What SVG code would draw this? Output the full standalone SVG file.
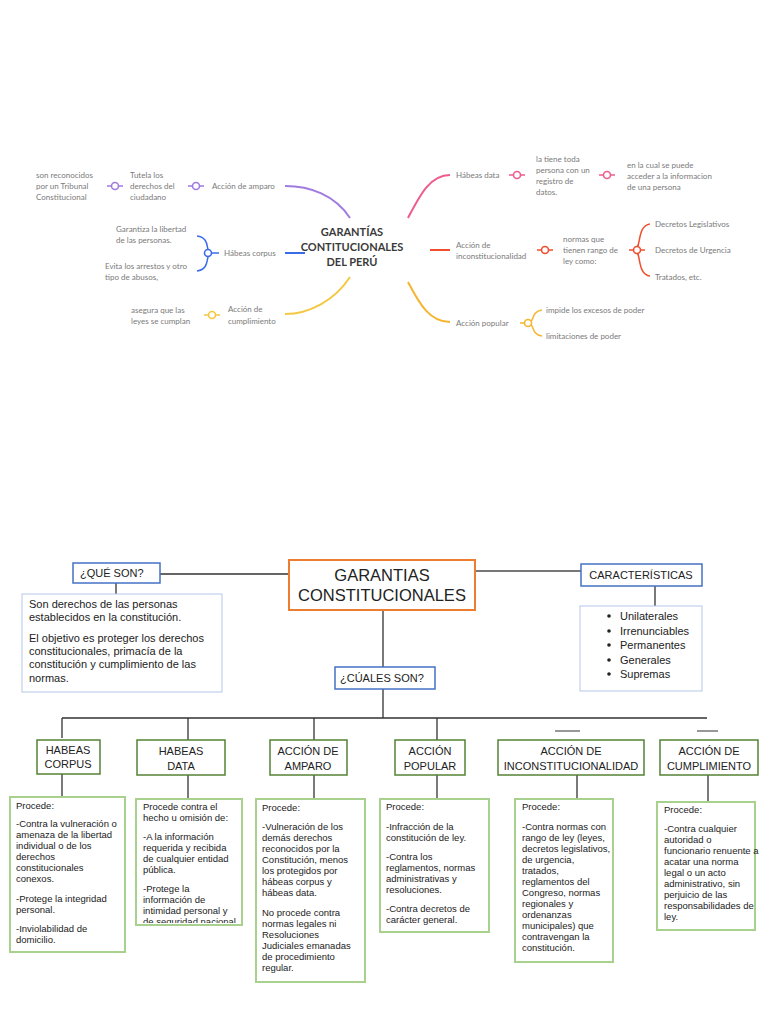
<svg xmlns="http://www.w3.org/2000/svg" width="768" height="1024" viewBox="0 0 768 1024">
<style>
.m{font-family:"Lato","Liberation Sans",sans-serif;font-size:8px;fill:#7a7a7a}
.c{font-family:"Lato","Liberation Sans",sans-serif;font-size:11px;font-weight:bold;fill:#3a3a3a}
.w{fill:#fff;stroke-width:1.6}
.b{font-family:"Liberation Sans",sans-serif;fill:#222}
.t{font-size:9.5px}
.h{font-size:11px;text-anchor:middle}
.g{fill:#fff;stroke:#a9d18e;stroke-width:2}
.hb{fill:#fff;stroke:#548235;stroke-width:1.5}
.ln{stroke:#333;stroke-width:1.3;fill:none}
.cv{fill:none;stroke-width:2}
</style>
<defs><clipPath id="cp2"><rect x="136" y="799" width="106" height="124"/></clipPath></defs>
<rect width="768" height="1024" fill="#fff"/>

<g id="mindmap-links">
<path class="cv" stroke="#a07be0" d="M350 218 C335 195 310 186 285 186"/>
<path class="cv" stroke="#3b6ce8" d="M285 253 H305"/>
<path class="cv" stroke="#f5c842" d="M350 277 C335 300 310 314 285 314"/>
<path class="cv" stroke="#ef5b8f" d="M408 218 C420 195 430 175 450 175"/>
<path class="cv" stroke="#ef4f2f" d="M430 250 H450"/>
<path class="cv" stroke="#f5b531" d="M408 282 C420 305 430 322 450 322"/>
</g>
<g id="mm-center"><text class="c" text-anchor="middle"><tspan x="352" y="236">GARANTÍAS</tspan><tspan x="352" y="251">CONTITUCIONALES</tspan><tspan x="352" y="266">DEL PERÚ</tspan></text></g>

<g id="mm-amparo" stroke="#a07be0">
<text class="m" x="212" y="189" stroke="none">Acción de amparo</text>
<path d="M188 186 H204 M107 186 H123" stroke-width="1.5"/><circle cx="196" cy="186" r="3.5" class="w"/><circle cx="115" cy="186" r="3.5" class="w"/>
<text class="m" stroke="none"><tspan x="130" y="178">Tutela los</tspan><tspan x="130" y="189">derechos del</tspan><tspan x="130" y="200">ciudadano</tspan></text>
<text class="m" stroke="none"><tspan x="36" y="178">son reconocidos</tspan><tspan x="36" y="189">por un Tribunal</tspan><tspan x="36" y="200">Constitucional</tspan></text>
</g>
<g id="mm-corpus" stroke="#3b6ce8">
<text class="m" x="224" y="256" stroke="none">Hábeas corpus</text>
<path d="M197 236 C212 238 204 253 212 253 M197 271 C212 269 204 253 212 253 M212 253 H219" fill="none" stroke-width="1.5"/><circle cx="208" cy="253" r="3.5" class="w"/>
<text class="m" stroke="none"><tspan x="116" y="232">Garantiza la libertad</tspan><tspan x="116" y="243">de las personas.</tspan></text>
<text class="m" stroke="none"><tspan x="105" y="269">Evita los arrestos y otro</tspan><tspan x="105" y="280">tipo de abusos,</tspan></text>
</g>
<g id="mm-cumplimiento" stroke="#f5c842">
<text class="m" stroke="none"><tspan x="228" y="312">Acción de</tspan><tspan x="228" y="324">cumplimiento</tspan></text>
<path d="M204 315 H220" stroke-width="1.5"/><circle cx="212" cy="315" r="3.5" class="w"/>
<text class="m" stroke="none"><tspan x="131" y="313">asegura que las</tspan><tspan x="131" y="324">leyes se cumplan</tspan></text>
</g>
<g id="mm-data" stroke="#ef5b8f">
<text class="m" x="456" y="178" stroke="none">Hábeas data</text>
<path d="M509 175 H525 M599 175 H615" stroke-width="1.5"/><circle cx="517" cy="175" r="3.5" class="w"/><circle cx="607" cy="175" r="3.5" class="w"/>
<text class="m" stroke="none"><tspan x="536" y="162">la tiene toda</tspan><tspan x="536" y="173">persona con un</tspan><tspan x="536" y="184">registro de</tspan><tspan x="536" y="195">datos.</tspan></text>
<text class="m" stroke="none"><tspan x="627" y="168">en la cual se puede</tspan><tspan x="627" y="179">acceder a la informacion</tspan><tspan x="627" y="190">de una persona</tspan></text>
</g>
<g id="mm-inconst" stroke="#ef4f2f">
<text class="m" stroke="none"><tspan x="456" y="248">Acción de</tspan><tspan x="456" y="259">inconstitucionalidad</tspan></text>
<path d="M537 250 H553" stroke-width="1.5"/><circle cx="545" cy="250" r="3.5" class="w"/>
<text class="m" stroke="none"><tspan x="563" y="242">normas que</tspan><tspan x="563" y="253">tienen rango de</tspan><tspan x="563" y="264">ley como:</tspan></text>
<path d="M629 250 H645 M650 224 C636 226 642 250 634 250 M650 276 C636 274 642 250 634 250" fill="none" stroke-width="1.5"/><circle cx="637" cy="250" r="3.5" class="w"/>
<text class="m" x="655" y="227" stroke="none">Decretos Legislativos</text>
<text class="m" x="655" y="253" stroke="none">Decretos de Urgencia</text>
<text class="m" x="655" y="280" stroke="none">Tratados, etc.</text>
</g>
<g id="mm-popular" stroke="#f5b531">
<text class="m" x="456" y="326" stroke="none">Acción popular</text>
<path d="M520 323 H528 M542 310 C530 312 535 323 528 323 M542 336 C530 334 535 323 528 323" fill="none" stroke-width="1.5"/><circle cx="528" cy="323" r="3.5" class="w"/>
<text class="m" x="546" y="313" stroke="none">impide los excesos de poder</text>
<text class="m" x="546" y="339" stroke="none">limitaciones de poder</text>
</g>

<g id="connectors">
<path class="ln" d="M160 574 H289 M116 583 V595 M383 610 V668 M383 689 V718 M62 718 H707 M62 718 V738 M188 718 V740 M314 718 V740 M437 718 V740 M62 773 V797 M188 775 V799 M314 775 V799 M437 775 V799 M577 775 V799 M708 775 V802 M655 586 V606"/>
<path d="M475 571 H581" stroke="#777" stroke-width="2"/>
<path d="M555 731 H580 M697 731 H718" stroke="#333" stroke-width="1.2"/>
</g>

<g id="main"><rect x="289" y="560" width="186" height="50" fill="#fff" stroke="#ed7d31" stroke-width="2"/>
<text class="b" font-size="16.5" text-anchor="middle" fill="#444"><tspan x="382" y="581">GARANTIAS</tspan><tspan x="382" y="601">CONSTITUCIONALES</tspan></text></g>
<g id="que-son"><rect x="73" y="563" width="87" height="20" fill="#fff" stroke="#4472c4" stroke-width="1.5"/><text class="b" x="80" y="577" font-size="11">¿QUÉ SON?</text></g>
<g id="que-son-text"><rect x="22" y="594" width="200" height="98" fill="#fff" stroke="#b4c7e7"/>
<text class="b" font-size="11"><tspan x="29" y="608">Son derechos de las personas</tspan><tspan x="29" y="621">establecidos en la constitución.</tspan><tspan x="29" y="642">El objetivo es proteger los derechos</tspan><tspan x="29" y="655">constitucionales, primacía de la</tspan><tspan x="29" y="668">constitución y cumplimiento de las</tspan><tspan x="29" y="682">normas.</tspan></text></g>
<g id="caracteristicas"><rect x="581" y="564" width="121" height="22" fill="#fff" stroke="#4472c4" stroke-width="1.5"/><text class="b" x="641" y="579" font-size="11" text-anchor="middle">CARACTERÍSTICAS</text></g>
<g id="caract-list"><rect x="580" y="606" width="122" height="85" fill="#fff" stroke="#b4c7e7"/>
<g fill="#222"><circle cx="609" cy="616" r="1.8"/><circle cx="609" cy="631" r="1.8"/><circle cx="609" cy="645" r="1.8"/><circle cx="609" cy="660" r="1.8"/><circle cx="609" cy="674" r="1.8"/></g>
<text class="b" font-size="11"><tspan x="620" y="620">Unilaterales</tspan><tspan x="620" y="635">Irrenunciables</tspan><tspan x="620" y="649">Permanentes</tspan><tspan x="620" y="664">Generales</tspan><tspan x="620" y="678">Supremas</tspan></text></g>
<g id="cuales"><rect x="335" y="667" width="100" height="22" fill="#fff" stroke="#4472c4" stroke-width="1.5"/><text class="b" x="340" y="682" font-size="11">¿CÚALES SON?</text></g>

<g id="h-corpus"><rect class="hb" x="37" y="740" width="63" height="34"/><text class="b h"><tspan x="68" y="754">HABEAS</tspan><tspan x="68" y="768">CORPUS</tspan></text></g>
<g id="h-data"><rect class="hb" x="137" y="740" width="88" height="35"/><text class="b h"><tspan x="181" y="755">HABEAS</tspan><tspan x="181" y="770">DATA</tspan></text></g>
<g id="h-amparo"><rect class="hb" x="270" y="740" width="77" height="35"/><text class="b h"><tspan x="308" y="755">ACCIÓN DE</tspan><tspan x="308" y="770">AMPARO</tspan></text></g>
<g id="h-popular"><rect class="hb" x="395" y="740" width="70" height="35"/><text class="b h"><tspan x="430" y="755">ACCIÓN</tspan><tspan x="430" y="770">POPULAR</tspan></text></g>
<g id="h-inconst"><rect class="hb" x="498" y="740" width="146" height="35"/><text class="b h"><tspan x="571" y="755">ACCIÓN DE</tspan><tspan x="571" y="770">INCONSTITUCIONALIDAD</tspan></text></g>
<g id="h-cumpl"><rect class="hb" x="660" y="740" width="98" height="35"/><text class="b h"><tspan x="709" y="755">ACCIÓN DE</tspan><tspan x="709" y="770">CUMPLIMIENTO</tspan></text></g>

<g id="d-corpus"><rect class="g" x="10" y="797" width="115" height="155"/>
<text class="b t"><tspan x="16" y="809">Procede:</tspan><tspan x="16" y="827">-Contra la vulneración o</tspan><tspan x="16" y="838">amenaza de la libertad</tspan><tspan x="16" y="849">individual  o  de  los</tspan><tspan x="16" y="860">derechos</tspan><tspan x="16" y="871">constitucionales</tspan><tspan x="16" y="882">conexos.</tspan><tspan x="16" y="902">-Protege la integridad</tspan><tspan x="16" y="913">personal.</tspan><tspan x="16" y="932">-Inviolabilidad         de</tspan><tspan x="16" y="943">domicilio.</tspan></text></g>
<g id="d-data"><rect class="g" x="136" y="799" width="106" height="126"/>
<text class="b t" clip-path="url(#cp2)"><tspan x="143" y="810">Procede contra el</tspan><tspan x="143" y="821">hecho u omisión de:</tspan><tspan x="143" y="840">-A   la   información</tspan><tspan x="143" y="851">requerida y recibida</tspan><tspan x="143" y="862">de cualquier entidad</tspan><tspan x="143" y="873">pública.</tspan><tspan x="143" y="892">-Protege            la</tspan><tspan x="143" y="903">información          de</tspan><tspan x="143" y="914">intimidad personal y</tspan><tspan x="143" y="925">de seguridad nacional</tspan></text></g>
<g id="d-amparo"><rect class="g" x="256" y="799" width="109" height="183"/>
<text class="b t"><tspan x="262" y="811">Procede:</tspan><tspan x="262" y="830">-Vulneración  de  los</tspan><tspan x="262" y="841">demás         derechos</tspan><tspan x="262" y="852">reconocidos  por  la</tspan><tspan x="262" y="863">Constitución,   menos</tspan><tspan x="262" y="874">los  protegidos  por</tspan><tspan x="262" y="885">hábeas    corpus    y</tspan><tspan x="262" y="896">hábeas data.</tspan><tspan x="262" y="916">No  procede  contra</tspan><tspan x="262" y="927">normas   legales   ni</tspan><tspan x="262" y="938">Resoluciones</tspan><tspan x="262" y="949">Judiciales   emanadas</tspan><tspan x="262" y="960">de     procedimiento</tspan><tspan x="262" y="971">regular.</tspan></text></g>
<g id="d-popular"><rect class="g" x="380" y="799" width="109" height="133"/>
<text class="b t"><tspan x="386" y="810">Procede:</tspan><tspan x="386" y="830">-Infracción    de    la</tspan><tspan x="386" y="841">constitución de ley.</tspan><tspan x="386" y="860">-Contra              los</tspan><tspan x="386" y="871">reglamentos,  normas</tspan><tspan x="386" y="882">administrativas       y</tspan><tspan x="386" y="893">resoluciones.</tspan><tspan x="386" y="912">-Contra  decretos  de</tspan><tspan x="386" y="923">carácter general.</tspan></text></g>
<g id="d-inconst"><rect class="g" x="515" y="799" width="98" height="163"/>
<text class="b t"><tspan x="522" y="810">Procede:</tspan><tspan x="522" y="830">-Contra normas con</tspan><tspan x="522" y="841">rango de ley (leyes,</tspan><tspan x="522" y="852">decretos legislativos,</tspan><tspan x="522" y="863">de          urgencia,</tspan><tspan x="522" y="874">tratados,</tspan><tspan x="522" y="885">reglamentos       del</tspan><tspan x="522" y="896">Congreso,   normas</tspan><tspan x="522" y="907">regionales           y</tspan><tspan x="522" y="918">ordenanzas</tspan><tspan x="522" y="929">municipales)     que</tspan><tspan x="522" y="940">contravengan       la</tspan><tspan x="522" y="951">constitución.</tspan></text></g>
<g id="d-cumpl"><rect class="g" x="657" y="802" width="98" height="128"/>
<text class="b t"><tspan x="664" y="813">Procede:</tspan><tspan x="664" y="832">-Contra        cualquier</tspan><tspan x="664" y="843">autoridad                o</tspan><tspan x="664" y="854">funcionario renuente a</tspan><tspan x="664" y="865">acatar  una  norma</tspan><tspan x="664" y="876">legal  o  un  acto</tspan><tspan x="664" y="887">administrativo,      sin</tspan><tspan x="664" y="898">perjuicio    de    las</tspan><tspan x="664" y="909">responsabilidades de</tspan><tspan x="664" y="920">ley.</tspan></text></g>
</svg>
